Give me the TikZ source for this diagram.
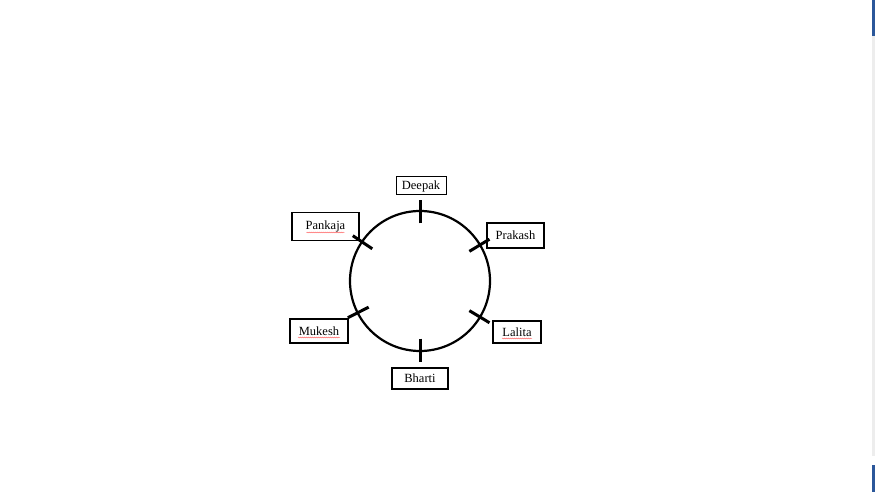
\documentclass[tikz,border=0pt]{standalone}
\usepackage{fontspec}
\setmainfont{Liberation Serif}
\usetikzlibrary{calc,positioning}
\usetikzlibrary{decorations.pathmorphing}
\definecolor{wordblue}{RGB}{43,87,154}
\tikzset{
  namebox/.style={draw,line width=1.7pt,inner sep=0pt,font=\fontsize{12.5}{14}\selectfont},
  tick/.style={line width=3pt},
  spell/.style={red!70!white,line width=0.45pt,decorate,decoration={snake,amplitude=0.45pt,segment length=2pt}},
}
\begin{document}
\begin{tikzpicture}[x=1pt,y=1pt]
        \useasboundingbox (0,0) rectangle (875,492);
        \fill[white] (0,0) rectangle (875,492);
        % window edge
        \fill[black!7] (872,36) rectangle (875,456);
        \fill[wordblue] (872,456) rectangle (875,492);
        \fill[wordblue] (872,0) rectangle (875,27);
        % ring with marks
        \node[circle,draw,line width=2.2pt,minimum size=140pt,inner sep=0pt] (ring) at (420,211) {};
        \foreach \a in {90,31,-31,-90,-153,146}
            \draw[tick] ($(ring.center)!0.81!(ring.\a)$)--($(ring.center)!1.14!(ring.\a)$);
        % names
        \node[namebox,line width=1pt,minimum width=50pt,minimum height=18pt] (deepak) at (421,306) {Deepak};
        \node[namebox,minimum width=67pt,minimum height=28pt] (pankaja) at (325.5,265.5) {Pankaja};
        \node[namebox,minimum width=57pt,minimum height=25pt] (prakash) at (515.5,256.5) {Prakash};
        \node[namebox,minimum width=48pt,minimum height=22pt] (lalita) at (517,160) {Lalita};
        \node[namebox,minimum width=58pt,minimum height=24pt] (mukesh) at (319,161) {Mukesh};
        \node[namebox,minimum width=56pt,minimum height=21pt] (bharti) at (420,113.5) {Bharti};
        % spelling marks
        \draw[spell] ($(pankaja.center)+(-19,-6)$)--($(pankaja.center)+(19,-6)$);
        \draw[spell] ($(mukesh.center)+(-21,-6.5)$)--($(mukesh.center)+(21,-6.5)$);
        \draw[spell] ($(lalita.center)+(-15,-6.5)$)--($(lalita.center)+(15,-6.5)$);
    \end{tikzpicture}
\end{document}
